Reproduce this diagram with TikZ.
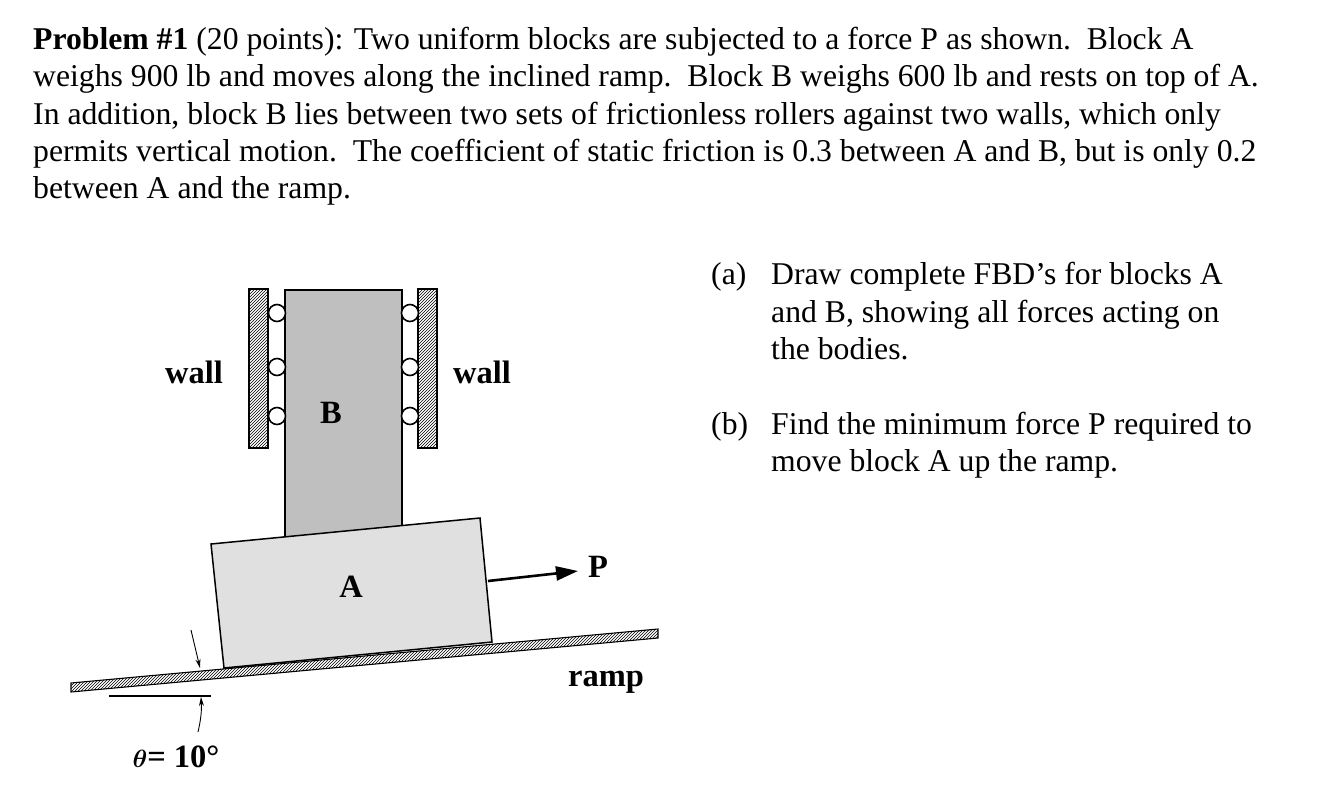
\documentclass[tikz,border=0pt]{standalone}
\usepackage{amsmath,bm}
\usepackage{fontspec}
\setmainfont{Liberation Serif}
\usetikzlibrary{patterns,arrows.meta}
\begin{document}
\begin{tikzpicture}[x=1pt,y=-1pt,
  txt/.style={anchor=base west,inner sep=0pt,font=\fontsize{31.7}{37}\selectfont},
  lbl/.style={inner sep=0pt,font=\fontsize{32.5}{34}\selectfont\bfseries},
  hatch/.style={draw,line width=1.1pt,pattern=north east lines},
  roller/.style={draw,line width=1.6pt,fill=white,circle,minimum size=17pt,inner sep=0pt}]
\useasboundingbox (0,0) rectangle (1330,790);
% text
\node[txt] (l1) at (33,49) {\textbf{Problem \#1} (20 points): Two uniform blocks are subjected to a force P as shown.\ \ Block A};
\node[txt] (l2) at (33,86) {weighs 900 lb and moves along the inclined ramp.\ \ Block B weighs 600 lb and rests on top of A.};
\node[txt] (l3) at (33,124) {In addition, block B lies between two sets of frictionless rollers against two walls, which only};
\node[txt] (l4) at (33,161) {permits vertical motion.\ \ The coefficient of static friction is 0.3 between A and B, but is only 0.2};
\node[txt] (l5) at (33,198) {between A and the ramp.};
\node[txt] (a0) at (711,284) {(a)};
\node[txt] (a1) at (771,284) {Draw complete FBD’s for blocks A};
\node[txt] (a2) at (771,322) {and B, showing all forces acting on};
\node[txt] (a3) at (771,359) {the bodies.};
\node[txt] (b0) at (711,434) {(b)};
\node[txt] (b1) at (771,434) {Find the minimum force P required to};
\node[txt] (b2) at (771,471) {move block A up the ramp.};
% walls
\draw[hatch] (249,289) rectangle (268,448);
\draw[hatch] (418,289) rectangle (437,448);
% block B
\draw[line width=1.5pt,fill=black!25] (285,540) -- (285,290) -- (402,290) -- (402,528);
% rollers
\foreach \y/\n in {313/1,367/2,416/3}{
  \node[roller] (rl\n) at (277,\y) {};
  \node[roller] (rr\n) at (410,\y) {};
}
% ramp
\draw[hatch] (71,683) -- (658,629) -- (658,638) -- (71,692) -- cycle;
% block A
\draw[line width=1.5pt,fill=black!12] (211,544) -- (480,518) -- (492,642) -- (224,668) -- cycle;
% angle
\draw[line width=1.4pt] (109,696) -- (211,696);
\coordinate (t1) at (191,630); \coordinate (h1) at (200,668);
\coordinate (t2) at (198,732); \coordinate (h2) at (201,697);
\draw[line width=0.9pt,-{Stealth[length=9pt,width=5pt]}] (t1) -- (h1);
\draw[line width=0.9pt,-{Stealth[length=9pt,width=5pt]}] (t2) to[bend right=8] (h2);
% force P
\coordinate (ps) at (488,581); \coordinate (pe) at (578,571);
\draw[line width=2.6pt,-{Triangle[length=22pt,width=14pt]}] (ps) -- (pe);
\node[lbl] (P) at (598,567) {P};
\node[lbl] (wl) at (194,372) {wall};
\node[lbl] (wr) at (482,372) {wall};
\node[lbl] (B) at (331,413) {B};
\node[lbl] (A) at (351,587) {A};
\node[lbl] (ramp) at (606,682) {ramp};
\node[lbl] (th) at (176,757) {$\bm{\theta}$= 10°};
\end{tikzpicture}
\end{document}
